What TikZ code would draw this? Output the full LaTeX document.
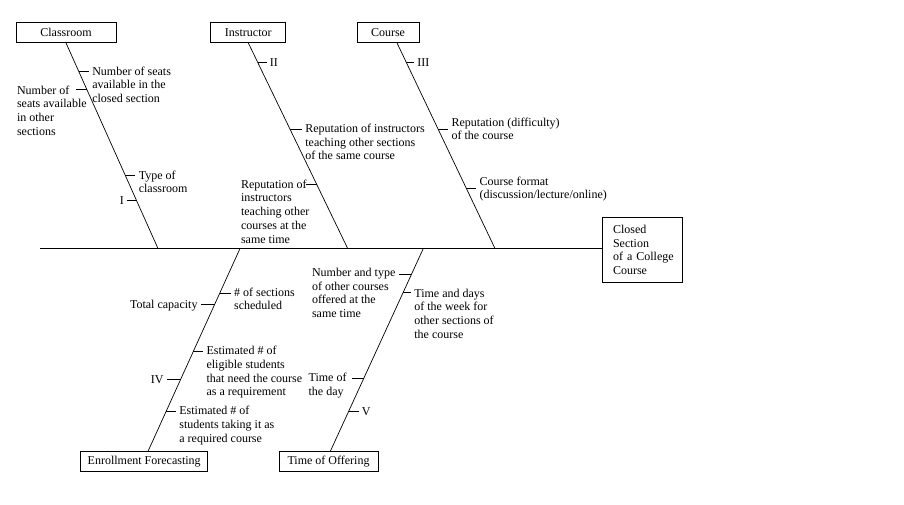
\documentclass[tikz,border=0pt]{standalone}
\usepackage{fontspec}
\setmainfont{Liberation Serif}
\usetikzlibrary{calc}
\begin{document}
\begin{tikzpicture}[x=1pt, y=-1pt, line width=0.7pt,
                    font=\fontsize{12}{13.7}\selectfont,
                    box/.style = {draw, minimum height=20.5pt, inner sep=0pt},
                    rlbl/.style = {anchor=north west, yshift=5.6pt, align=left, inner xsep=3pt, inner ysep=0pt, execute at begin node=\strut},
                    llbl/.style = {anchor=north east, yshift=5.6pt, align=left, inner xsep=3pt, inner ysep=0pt, execute at begin node=\strut},
                    blk/.style = {anchor=north west, align=left, inner sep=0pt, execute at begin node=\strut}]
    \useasboundingbox (0,0) rectangle (904,504);

    % head and spine
    \node[box, text width=59pt, inner xsep=10.3pt, minimum height=65pt, align=left] (effect) at (642.5,249.8) {Closed\\Section\\\mbox{of a College}\\Course};
    \coordinate (tail) at (40,248.5);
    \draw (tail) -- (tail -| effect.west);

    % category boxes
    \node[box, minimum width=100pt] (classroom) at (66,32.3) {Classroom};
    \node[box, minimum width=75pt] (instructor) at (248.3,32.3) {Instructor};
    \node[box, minimum width=62pt] (course) at (388,32.3) {Course};
    \node[box, minimum width=127pt] (forecast) at (144.2,461.5) {Enrollment Forecasting};
    \node[box, minimum width=99pt] (offering) at (328.5,461.5) {Time of Offering};

    % bones
    \coordinate (s1) at (158,248.5);
    \coordinate (s2) at (347.7,248.5);
    \coordinate (s3) at (495,248.5);
    \coordinate (s4) at (240,248.5);
    \coordinate (s5) at (423.3,248.5);
    \coordinate (c3) at ([xshift=9pt]course.south);
    \coordinate (c4) at ([xshift=4pt]forecast.north);
    \coordinate (c5) at ([xshift=2pt]offering.north);
    \draw (classroom.south) -- (s1);
    \draw (instructor.south) -- (s2);
    \draw (c3) -- (s3);
    \draw (c4) -- (s4);
    \draw (c5) -- (s5);

    % classroom
    \draw ($(classroom.south)!.1406!(s1)$) -- ++(10,0) node[rlbl] (closedseats) {Number of seats\\available in the\\closed section};
    \draw ($(classroom.south)!.228!(s1)$) -- ++(-11,0);
    \node[blk] (otherseats) at (16.7,85.4) {Number of\\seats available\\in other\\sections};
    \draw ($(classroom.south)!.6465!(s1)$) -- ++(10,0) node[rlbl] (roomtype) {Type of\\classroom};
    \draw ($(classroom.south)!.7645!(s1)$) -- ++(-9,0) node[llbl] (one) {I};

    % instructor
    \draw ($(instructor.south)!.093!(s2)$) -- ++(9,0) node[rlbl] (two) {II};
    \draw ($(instructor.south)!.4198!(s2)$) -- ++(12,0) node[rlbl] (repsections) {Reputation of instructors\\teaching other sections\\of the same course};
    \draw ($(instructor.south)!.6868!(s2)$) -- ++(-11,0);
    \node[blk] (repcourses) at (240.7,179.4) {Reputation of\\instructors\\teaching other\\courses at the\\same time};

    % course
    \draw ($(c3)!.093!(s3)$) -- ++(8,0) node[rlbl] (three) {III};
    \draw ($(c3)!.4212!(s3)$) -- ++(10,0) node[rlbl, yshift=6.6pt] (difficulty) {Reputation (difficulty)\\of the course};
    \draw ($(c3)!.7063!(s3)$) -- ++(10,0) node[rlbl, yshift=6.3pt] (format) {Course format\\(discussion/lecture/online)};

    % enrollment forecasting
    \draw ($(s4)!.2198!(c4)$) -- ++(11,0) node[rlbl] (nsections) {\# of sections\\scheduled};
    \draw ($(s4)!.274!(c4)$) -- ++(-14,0) node[llbl] (capacity) {Total capacity};
    \draw ($(s4)!.5096!(c4)$) -- ++(10,0) node[rlbl] (eligible) {Estimated \# of\\eligible students\\that need the course\\as a requirement};
    \draw ($(s4)!.6444!(c4)$) -- ++(-14,0) node[llbl] (four) {IV};
    \draw ($(s4)!.806!(c4)$) -- ++(10,0) node[rlbl] (required) {Estimated \# of\\students taking it as\\a required course};

    % time of offering
    \draw ($(s5)!.1274!(c5)$) -- ++(-12,0);
    \node[blk] (othercourses) at (311.7,267.7) {Number and type\\of other courses\\offered at the\\same time};
    \draw ($(s5)!.2183!(c5)$) -- ++(8,0) node[rlbl, yshift=-1.5pt] (timedays) {Time and days\\of the week for\\other sections of\\the course};
    \draw ($(s5)!.641!(c5)$) -- ++(-12,0);
    \node[blk] (timeofday) at (308.3,372.7) {Time of\\the day};
    \draw ($(s5)!.806!(c5)$) -- ++(10,0) node[rlbl] (five) {V};
\end{tikzpicture}
\end{document}
